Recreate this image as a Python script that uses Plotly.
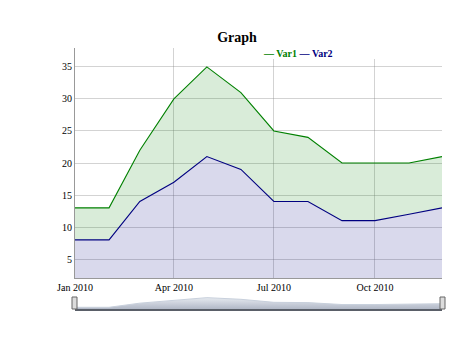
import plotly.graph_objects as go

# Monthly observations for 2010
months = ["2010-01-01", "2010-02-01", "2010-03-01", "2010-04-01", "2010-05-01", "2010-06-01",
          "2010-07-01", "2010-08-01", "2010-09-01", "2010-10-01", "2010-11-01", "2010-12-01"]
var1 = [13, 13, 22, 30, 35, 31, 25, 24, 20, 20, 20, 21]
var2 = [8, 8, 14, 17, 21, 19, 14, 14, 11, 11, 12, 13]

tick_vals = ["2010-01-01", "2010-04-01", "2010-07-01", "2010-10-01"]
tick_text = ["Jan 2010", "Apr 2010", "Jul 2010", "Oct 2010"]
y_ticks = [5, 10, 15, 20, 25, 30, 35]

# overview strip shows the average of both series
overview = [(a + b) / 2 for a, b in zip(var1, var2)]

GREEN = "#008000"
NAVY = "#000080"
SERIF = "Liberation Serif, Times New Roman, serif"

fig = go.Figure()

# Var2 fills down to the baseline, Var1 fills the band above it
fig.add_trace(go.Scatter(
    x=months, y=var2, name="Var2", mode="lines",
    line=dict(color=NAVY, width=1.1),
    fill="tozeroy", fillcolor="rgba(0,0,128,0.15)",
    xaxis="x", yaxis="y", showlegend=False,
))
fig.add_trace(go.Scatter(
    x=months, y=var1, name="Var1", mode="lines",
    line=dict(color=GREEN, width=1.1),
    fill="tonexty", fillcolor="rgba(0,128,0,0.15)",
    xaxis="x", yaxis="y", showlegend=False,
))

# range-selector style overview
fig.add_trace(go.Scatter(
    x=months, y=overview, mode="lines",
    line=dict(color="#c8d0dc", width=1),
    fill="tozeroy",
    fillgradient=dict(type="vertical",
                      colorscale=[[0, "#9ea6b8"], [1, "#e6eaf0"]]),
    xaxis="x2", yaxis="y2", showlegend=False, hoverinfo="skip",
))

W, H = 474, 338
ML, MR, MT, MB = 75, 32, 48, 29
ph = H - MT - MB
pw = W - ML - MR

grid = "rgba(128,128,128,0.35)"

fig.update_layout(
    width=W, height=H,
    margin=dict(l=ML, r=MR, t=MT, b=MB),
    paper_bgcolor="white", plot_bgcolor="white",
    title=dict(text="<b>Graph</b>", x=0.5, xref="container", xanchor="center",
               y=1 - 37 / H, yref="container", yanchor="middle",
               font=dict(family=SERIF, size=14, color="black")),
    font=dict(family=SERIF, size=10, color="black"),
    xaxis=dict(
        type="date", range=[months[0], months[-1]],
        tickvals=tick_vals, ticktext=tick_text,
        showgrid=True, gridcolor=grid, gridwidth=1,
        showline=True, linecolor="#999999", linewidth=1,
        ticks="", zeroline=False, anchor="y",
    ),
    yaxis=dict(
        domain=[31 / ph, 1], range=[2.05, 37.95],
        tickvals=y_ticks,
        showgrid=True, gridcolor=grid, gridwidth=1,
        showline=True, linecolor="#999999", linewidth=1,
        ticks="", zeroline=False, ticklabelstandoff=0,
    ),
    xaxis2=dict(
        type="date", range=[months[0], months[-1]], matches="x",
        showticklabels=False, showgrid=False, zeroline=False,
        showline=True, linecolor="#5a5f68", linewidth=2, anchor="y2",
    ),
    yaxis2=dict(
        domain=[0, 13 / ph], range=[7.4, 31],
        showticklabels=False, showgrid=False, zeroline=False, showline=False,
    ),
    shapes=[
        # white legend backdrop
        dict(type="rect", xref="paper", yref="paper", layer="above",
             x0=(192 - ML) / pw, x1=1, y0=1 - 11 / ph, y1=1,
             fillcolor="white", line=dict(width=0)),
        # overview handles
        dict(type="rect", xref="paper", yref="paper", layer="above",
             x0=-3 / pw, x1=2 / pw, y0=0, y1=12 / ph,
             fillcolor="#dcdcdc", line=dict(color="#666666", width=1)),
        dict(type="rect", xref="paper", yref="paper", layer="above",
             x0=1 - 2 / pw, x1=1 + 3 / pw, y0=0, y1=12 / ph,
             fillcolor="#dcdcdc", line=dict(color="#666666", width=1)),
    ],
    annotations=[
        dict(xref="paper", yref="paper", x=(297.5 - ML) / pw, y=1 - 6 / ph,
             xanchor="center", yanchor="middle", showarrow=False,
             text=f"<b><span style='color:{GREEN}'>— Var1</span> "
                  f"<span style='color:{NAVY}'>— Var2</span></b>",
             font=dict(family=SERIF, size=10)),
    ],
)

fig.write_html("out.html")
